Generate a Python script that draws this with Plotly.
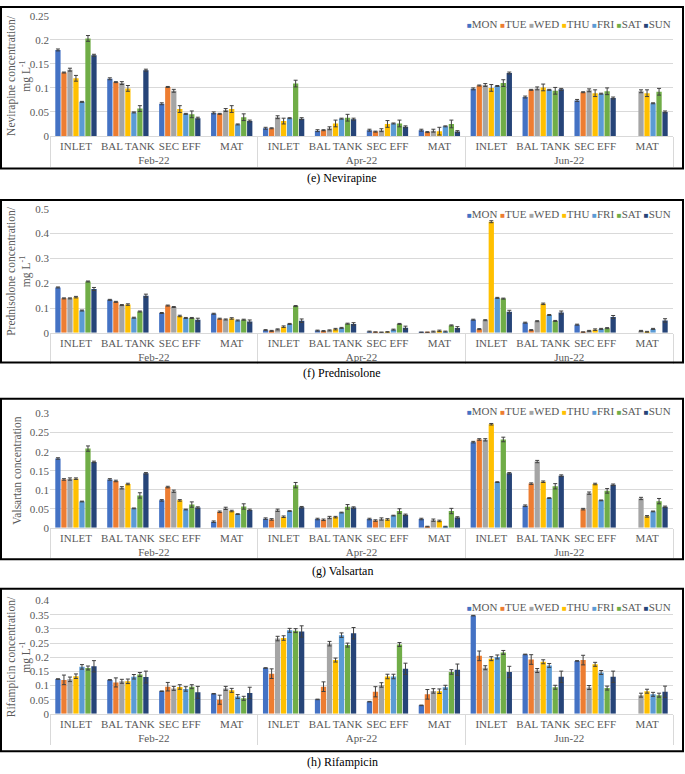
import plotly.graph_objects as go

# ---------------- data ----------------
days = ["MON", "TUE", "WED", "THU", "FRI", "SAT", "SUN"]
day_colors = ["#4472C4", "#ED7D31", "#A5A5A5", "#FFC000", "#5B9BD5", "#70AD47", "#264478"]
months = ["Feb-22", "Feb-22", "Feb-22", "Feb-22",
          "Apr-22", "Apr-22", "Apr-22", "Apr-22",
          "Jun-22", "Jun-22", "Jun-22", "Jun-22"]
sites = ["INLET", "BAL TANK", "SEC EFF", "MAT",
         "INLET", "BAL TANK", "SEC EFF", "MAT",
         "INLET", "BAL TANK", "SEC EFF", "MAT"]

# rows = MON..SUN, columns = 12 month/site groups
nevirapine = [
    [0.179, 0.119, 0.067, 0.048, 0.016, 0.011, 0.012, 0.012, 0.098, 0.081, 0.074, None],
    [0.132, 0.112, 0.102, 0.046, 0.016, 0.012, 0.009, 0.008, 0.105, 0.096, 0.091, None],
    [0.138, 0.110, 0.094, 0.054, 0.039, 0.016, 0.012, 0.011, 0.106, 0.099, 0.095, 0.093],
    [0.120, 0.099, 0.056, 0.056, 0.031, 0.026, 0.025, 0.010, 0.100, 0.101, 0.089, 0.089],
    [0.071, 0.049, 0.046, 0.024, 0.037, 0.036, 0.026, 0.020, 0.104, 0.096, 0.088, 0.068],
    [0.203, 0.057, 0.045, 0.039, 0.109, 0.038, 0.026, 0.025, 0.110, 0.094, 0.093, 0.092],
    [0.168, 0.137, 0.037, 0.031, 0.036, 0.035, 0.019, 0.009, 0.131, 0.097, 0.079, 0.050],
]
nevirapine_err = [
    [0.002, 0.002, 0.002, 0.002, 0.002, 0.002, 0.002, 0.002, 0.002, 0.002, 0.002, 0.0],
    [0.001, 0.001, 0.001, 0.001, 0.001, 0.001, 0.001, 0.001, 0.001, 0.001, 0.001, 0.0],
    [0.003, 0.003, 0.003, 0.003, 0.003, 0.003, 0.003, 0.003, 0.003, 0.003, 0.003, 0.003],
    [0.006, 0.006, 0.007, 0.007, 0.006, 0.007, 0.007, 0.008, 0.007, 0.007, 0.007, 0.007],
    [0.001, 0.001, 0.001, 0.001, 0.001, 0.001, 0.001, 0.001, 0.001, 0.001, 0.001, 0.001],
    [0.006, 0.006, 0.007, 0.007, 0.007, 0.007, 0.007, 0.008, 0.007, 0.007, 0.007, 0.007],
    [0.002, 0.002, 0.002, 0.002, 0.002, 0.002, 0.002, 0.002, 0.002, 0.002, 0.002, 0.002],
]

prednisolone = [
    [0.183, 0.133, 0.080, 0.077, 0.011, 0.009, 0.005, 0.002, 0.053, 0.041, 0.033, None],
    [0.139, 0.125, 0.110, 0.057, 0.008, 0.007, 0.003, 0.002, 0.015, 0.011, 0.003, None],
    [0.139, 0.112, 0.104, 0.054, 0.014, 0.010, 0.002, 0.005, 0.051, 0.047, 0.008, 0.008],
    [0.144, 0.114, 0.068, 0.058, 0.025, 0.015, 0.003, 0.008, 0.448, 0.117, 0.013, 0.004],
    [0.090, 0.061, 0.060, 0.050, 0.036, 0.020, 0.013, 0.005, 0.141, 0.072, 0.016, 0.016],
    [0.207, 0.086, 0.060, 0.053, 0.108, 0.037, 0.036, 0.030, 0.138, 0.048, 0.019, None],
    [0.177, 0.150, 0.053, 0.046, 0.049, 0.036, 0.021, 0.020, 0.085, 0.082, 0.064, 0.050],
]
prednisolone_err = [
    [0.002, 0.002, 0.002, 0.002, 0.002, 0.002, 0.002, 0.001, 0.002, 0.002, 0.002, 0.0],
    [0.002, 0.002, 0.002, 0.002, 0.002, 0.002, 0.001, 0.001, 0.002, 0.002, 0.001, 0.0],
    [0.002, 0.002, 0.002, 0.002, 0.002, 0.002, 0.001, 0.002, 0.002, 0.002, 0.002, 0.002],
    [0.003, 0.003, 0.003, 0.003, 0.003, 0.003, 0.002, 0.003, 0.004, 0.003, 0.003, 0.002],
    [0.002, 0.002, 0.002, 0.002, 0.002, 0.002, 0.002, 0.002, 0.002, 0.002, 0.002, 0.002],
    [0.002, 0.002, 0.002, 0.002, 0.002, 0.002, 0.002, 0.002, 0.002, 0.002, 0.002, 0.0],
    [0.006, 0.006, 0.006, 0.006, 0.007, 0.005, 0.006, 0.005, 0.006, 0.006, 0.006, 0.007],
]

valsartan = [
    [0.182, 0.127, 0.072, 0.016, 0.024, 0.023, 0.023, 0.023, 0.225, 0.058, None, None],
    [0.127, 0.123, 0.107, 0.042, 0.022, 0.021, 0.019, 0.003, 0.232, 0.116, 0.049, None],
    [0.128, 0.105, 0.096, 0.051, 0.046, 0.027, 0.023, 0.020, 0.231, 0.174, 0.091, 0.077],
    [0.129, 0.115, 0.072, 0.044, 0.029, 0.028, 0.022, 0.018, 0.272, 0.121, 0.115, 0.030],
    [0.069, 0.051, 0.048, 0.036, 0.044, 0.040, 0.032, 0.003, 0.120, 0.078, 0.072, 0.043],
    [0.208, 0.085, 0.061, 0.056, 0.112, 0.055, 0.044, 0.044, 0.232, 0.109, 0.097, 0.070],
    [0.173, 0.143, 0.053, 0.047, 0.054, 0.053, 0.034, 0.027, 0.143, 0.137, 0.113, 0.055],
]
valsartan_err = [
    [0.002, 0.002, 0.002, 0.002, 0.002, 0.002, 0.002, 0.002, 0.002, 0.002, 0.0, 0.0],
    [0.002, 0.002, 0.002, 0.002, 0.002, 0.002, 0.002, 0.001, 0.002, 0.002, 0.002, 0.0],
    [0.003, 0.003, 0.003, 0.003, 0.003, 0.003, 0.003, 0.003, 0.003, 0.003, 0.003, 0.003],
    [0.002, 0.002, 0.002, 0.002, 0.002, 0.002, 0.002, 0.002, 0.002, 0.002, 0.002, 0.002],
    [0.001, 0.001, 0.001, 0.001, 0.001, 0.001, 0.001, 0.001, 0.001, 0.001, 0.001, 0.001],
    [0.007, 0.007, 0.007, 0.007, 0.007, 0.006, 0.006, 0.007, 0.006, 0.007, 0.006, 0.007],
    [0.002, 0.002, 0.002, 0.002, 0.002, 0.002, 0.002, 0.002, 0.002, 0.002, 0.002, 0.002],
]

rifampicin = [
    [0.123, 0.120, 0.080, 0.071, 0.162, 0.051, 0.043, 0.030, 0.347, 0.210, 0.187, None],
    [0.120, 0.111, 0.096, 0.050, 0.142, 0.096, 0.078, 0.069, 0.205, 0.192, 0.190, None],
    [0.122, 0.115, 0.090, 0.090, 0.266, 0.248, 0.102, 0.081, 0.163, 0.153, 0.093, 0.066],
    [0.133, 0.115, 0.095, 0.083, 0.268, 0.190, 0.132, 0.080, 0.195, 0.184, 0.175, 0.080],
    [0.166, 0.131, 0.088, 0.061, 0.295, 0.278, 0.132, 0.094, 0.201, 0.171, 0.146, 0.069],
    [0.162, 0.139, 0.096, 0.055, 0.294, 0.243, 0.245, 0.148, 0.217, 0.094, 0.091, 0.066],
    [0.168, 0.130, 0.076, 0.074, 0.291, 0.285, 0.159, 0.156, 0.148, 0.131, 0.131, 0.078],
]
rifampicin_err = [
    [0.001, 0.001, 0.001, 0.001, 0.001, 0.001, 0.001, 0.001, 0.001, 0.001, 0.001, 0.0],
    [0.017, 0.016, 0.015, 0.016, 0.017, 0.017, 0.018, 0.017, 0.017, 0.017, 0.017, 0.0],
    [0.008, 0.007, 0.007, 0.007, 0.008, 0.008, 0.008, 0.008, 0.007, 0.007, 0.007, 0.007],
    [0.008, 0.008, 0.008, 0.007, 0.008, 0.007, 0.008, 0.008, 0.007, 0.007, 0.007, 0.007],
    [0.008, 0.008, 0.008, 0.007, 0.007, 0.008, 0.008, 0.007, 0.007, 0.007, 0.007, 0.007],
    [0.007, 0.007, 0.007, 0.007, 0.007, 0.007, 0.007, 0.008, 0.007, 0.007, 0.007, 0.007],
    [0.020, 0.021, 0.021, 0.020, 0.020, 0.020, 0.020, 0.020, 0.020, 0.020, 0.020, 0.020],
]

panels = [
    dict(values=nevirapine, errors=nevirapine_err, ymax=0.25, dtick=0.05,
         ytitle="Nevirapine concentration/<br>mg L<sup>-1</sup>", caption="(e) Nevirapine"),
    dict(values=prednisolone, errors=prednisolone_err, ymax=0.5, dtick=0.1,
         ytitle="Prednisolone concentration/<br>mg L<sup>-1</sup>", caption="(f) Prednisolone"),
    dict(values=valsartan, errors=valsartan_err, ymax=0.3, dtick=0.05,
         ytitle="Valsartan concentration", caption="(g) Valsartan"),
    dict(values=rifampicin, errors=rifampicin_err, ymax=0.4, dtick=0.05,
         ytitle="Rifampicin concentration/<br>mg L<sup>-1</sup>", caption="(h) Rifampicin"),
]

# ---------------- layout geometry (pixels) ----------------
W, H = 685, 774
plot_px = [(10, 132), (206, 332), (414, 530), (604, 719)]
box_px = [(1, 165), (197, 362), (399, 562), (592, 757)]
legend_px = [18, 211, 411, 610]
caption_px = [175, 373, 574, 768]
x_left, x_right = 50, 673

FONT = "Liberation Serif"
GREY = "#595959"
GRID = "#D9D9D9"

def py(y):
    return 1 - y / H

fig = go.Figure()
layout = dict(
    width=W, height=H, margin=dict(l=0, r=0, t=0, b=0),
    paper_bgcolor="white", plot_bgcolor="white",
    barmode="group", bargap=0.19, bargroupgap=0.12,
    showlegend=False, font=dict(family=FONT, size=11, color=GREY),
)
shapes, annotations = [], []

for k, p in enumerate(panels):
    sfx = "" if k == 0 else str(k + 1)
    xa, ya = "x" + sfx, "y" + sfx
    for d in range(7):
        fig.add_trace(go.Bar(
            x=[months, sites], y=p["values"][d], name=days[d],
            marker=dict(color=day_colors[d], line=dict(width=0)),
            error_y=dict(type="data", array=p["errors"][d], color="#404040",
                         thickness=1, width=2),
            xaxis=xa, yaxis=ya,
        ))
    top, bot = plot_px[k]
    layout["xaxis" + sfx] = dict(
        domain=[x_left / W, x_right / W], anchor=ya, type="multicategory",
        showdividers=True, dividercolor=GRID, dividerwidth=1, tickangle=0,
        showline=True, linecolor=GRID, linewidth=1,
        ticks="", showgrid=False,
        tickfont=dict(family=FONT, size=11, color=GREY),
    )
    layout["yaxis" + sfx] = dict(
        domain=[py(bot), py(top)], anchor=xa, range=[0, p["ymax"]], dtick=p["dtick"],
        showgrid=True, gridcolor=GRID, gridwidth=1, zeroline=False, showline=False,
        ticks="", tickfont=dict(family=FONT, size=11, color=GREY),
    )
    # y-axis title (rotated, centred on the plot area)
    two_lines = "<br>" in p["ytitle"]
    annotations.append(dict(xref="paper", yref="paper", x=(19 if two_lines else 17) / W,
                            y=py((top + bot) / 2),
                            xanchor="center", yanchor="middle", showarrow=False, textangle=-90,
                            text=p["ytitle"], font=dict(family=FONT, size=11.5, color=GREY)))
    # panel border
    b0, b1 = box_px[k]
    shapes.append(dict(type="rect", xref="paper", yref="paper",
                       x0=1 / W, x1=683 / W, y0=py(b1), y1=py(b0),
                       line=dict(color="black", width=2), fillcolor="rgba(0,0,0,0)"))
    # legend (Excel style: small coloured squares followed by day names)
    legend_text = " ".join(
        f'<span style="color:{c};font-size:8px">■</span>{dname}'
        for c, dname in zip(day_colors, days)
    )
    annotations.append(dict(xref="paper", yref="paper", x=x_right / W, y=py(legend_px[k]),
                            xanchor="right", yanchor="middle", showarrow=False,
                            text=legend_text, font=dict(family=FONT, size=11, color=GREY)))
    # caption
    annotations.append(dict(xref="paper", yref="paper", x=342 / W, y=py(caption_px[k]),
                            xanchor="center", yanchor="middle", showarrow=False,
                            text=p["caption"], font=dict(family=FONT, size=12, color="black")))

layout["shapes"] = shapes
layout["annotations"] = annotations
fig.update_layout(**layout)
fig.write_html("out.html")
